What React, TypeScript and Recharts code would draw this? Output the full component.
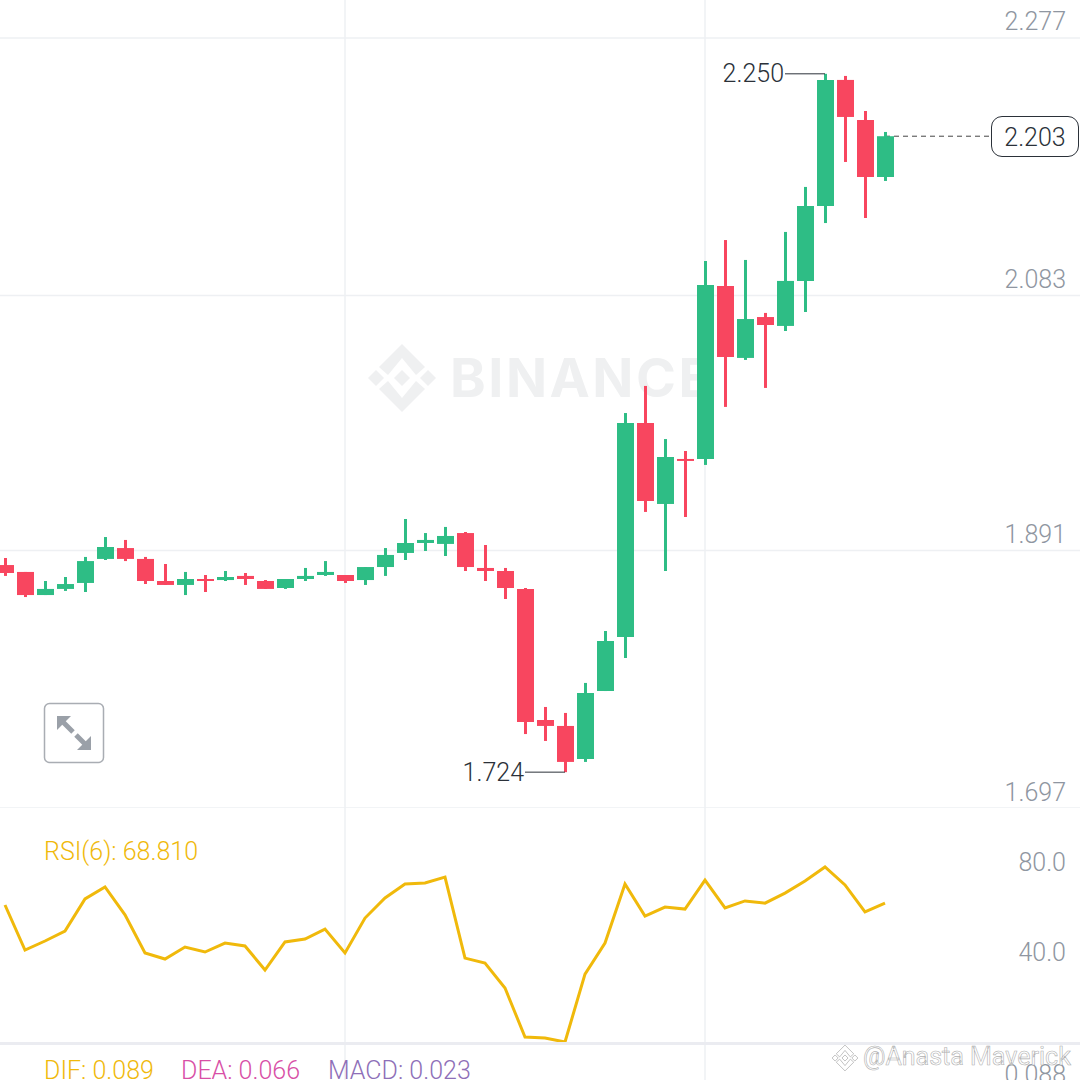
import {
  Bar,
  CartesianGrid,
  Cell,
  ComposedChart,
  Line,
  ReferenceDot,
  ReferenceLine,
  XAxis,
  YAxis,
} from "recharts";

const FONT = "Roboto, sans-serif";
const GREEN = "#2EBD85";
const RED = "#F8465F";
const GRID = "#EEF0F3";
const TICK = "#8F96A1";
const INK = "#2B3139";
const TEXT_SIZE = 25;

// one slot per candle, the empty slots after the last one are the free space on the right
const slots = Array.from({ length: 55 }, (_, i) => i);

const opens = [
  1.88, 1.8748, 1.8574, 1.862, 1.8665, 1.8846, 1.8928, 1.8846, 1.868, 1.865, 1.8695, 1.8687, 1.8718, 1.868, 1.8627,
  1.8695, 1.8725, 1.8725, 1.8687, 1.8785, 1.8891, 1.8966, 1.8959, 1.9041, 1.8778, 1.8755, 1.862, 1.7633, 1.7588,
  1.7339, 1.7851, 1.8258, 1.987, 1.926, 1.9599, 1.9599, 2.0902, 2.036, 2.0668, 2.0601, 2.094, 2.1505, 2.2454, 2.2152,
  2.1723,
];
const closes = [
  1.874, 1.8574, 1.862, 1.8657, 1.883, 1.8936, 1.8846, 1.868, 1.865, 1.8695, 1.868, 1.871, 1.8695, 1.862, 1.8695,
  1.8718, 1.8748, 1.868, 1.8785, 1.8876, 1.8966, 1.8989, 1.9019, 1.8785, 1.8755, 1.8627, 1.7618, 1.7588, 1.7317,
  1.7836, 1.8228, 1.987, 1.9282, 1.9614, 1.9584, 2.0909, 2.0367, 2.0653, 2.0608, 2.094, 2.1505, 2.2454, 2.2175, 2.1723,
  2.203,
];
const highs = [
  1.8853, 1.8748, 1.868, 1.871, 1.8861, 1.9011, 1.8989, 1.8861, 1.8808, 1.8748, 1.8725, 1.8755, 1.874, 1.8687, 1.8695,
  1.8778, 1.883, 1.8725, 1.8785, 1.8928, 1.9147, 1.9041, 1.9087, 1.9049, 1.8951, 1.8778, 1.8627, 1.7731, 1.7686,
  1.7912, 1.8303, 1.9945, 2.0149, 1.9749, 1.9659, 2.109, 2.1248, 2.1098, 2.0699, 2.1309, 2.1648, 2.25, 2.2484, 2.222,
  2.2062,
];
const lows = [
  1.8718, 1.8559, 1.8574, 1.8605, 1.8597, 1.8838, 1.883, 1.8657, 1.865, 1.8574, 1.8597, 1.868, 1.865, 1.862, 1.862,
  1.868, 1.8718, 1.8665, 1.865, 1.8718, 1.8838, 1.8906, 1.8868, 1.8755, 1.868, 1.8544, 1.7527, 1.7475, 1.724, 1.7317,
  1.7851, 1.81, 1.92, 1.8755, 1.9162, 1.9554, 1.9991, 2.0345, 2.0134, 2.0563, 2.0706, 2.1376, 2.1836, 2.1414, 2.1693,
];
const rsi = [
  68.0, 48.0, 52.0, 56.4, 70.7, 76.0, 63.6, 46.7, 44.0, 49.3, 47.1, 51.1, 49.8, 39.1, 51.6, 52.9, 57.3, 46.7, 62.2,
  71.1, 77.3, 77.8, 80.4, 44.4, 42.2, 31.1, 9.3, 8.9, 7.1, 37.3, 51.1, 77.3, 63.1, 67.1, 66.2, 79.1, 66.7, 69.8, 68.81,
  73.3, 78.7, 84.9, 76.9, 64.9, 68.81,
];

const priceTicks = [2.277, 2.083, 1.891, 1.697];
const rsiTicks = [80, 40];
const macdTicks = [0.088];
const gridSlots = [17, 35];

const rows = slots.map((slot) => {
  if (slot >= opens.length) return { slot };
  const o = opens[slot];
  const c = closes[slot];
  return {
    slot,
    up: c >= o,
    wick: [lows[slot], highs[slot]],
    body: [Math.min(o, c), Math.max(o, c)],
    rsi: rsi[slot],
  };
});

function ValueTick({ y, payload, digits }: any) {
  return (
    <text
      x={1071}
      y={y - 16}
      textAnchor="end"
      dominantBaseline="central"
      fill={TICK}
      fontSize={TEXT_SIZE}
      fontWeight={300}
      fontFamily={FONT}
    >
      {payload.value.toFixed(digits)}
    </text>
  );
}

function Logo({ cx, cy, s, fill, stroke, strokeWidth }: any) {
  const shapes = [
    [[0, -34], [23, -11], [14, -3], [0, -20], [-14, -3], [-23, -11]],
    [[0, 34], [23, 11], [14, 3], [0, 20], [-14, 3], [-23, 11]],
    [[0, -8], [8, 0], [0, 8], [-8, 0]],
    [[-26, -8], [-18, 0], [-26, 8], [-34, 0]],
    [[26, -8], [34, 0], [26, 8], [18, 0]],
  ];
  return (
    <g>
      {shapes.map((pts, i) => (
        <polygon
          key={i}
          points={pts.map(([x, y]) => `${cx + x * s},${cy + y * s}`).join(" ")}
          fill={fill}
          stroke={stroke}
          strokeWidth={strokeWidth}
        />
      ))}
    </g>
  );
}

function legend(left: number, color: string, text: string) {
  return (
    <div
      style={{
        position: "absolute",
        left,
        top: 1062,
        color,
        fontSize: TEXT_SIZE,
        fontWeight: 300,
        lineHeight: "18px",
        whiteSpace: "nowrap",
      }}
    >
      {text}
    </div>
  );
}

const leaderLabel = (value: string, dy: number) => ({
  value,
  position: "left" as const,
  offset: 1,
  dy,
  fill: INK,
  fontSize: TEXT_SIZE,
  fontWeight: 300,
  fontFamily: FONT,
});

export default function App() {
  return (
    <div
      style={{
        position: "absolute",
        left: 0,
        top: 0,
        width: 1080,
        height: 1080,
        overflow: "hidden",
        background: "#fff",
        fontFamily: FONT,
      }}
    >
      {/* watermark sits behind the candles */}
      <svg width={1080} height={808} style={{ position: "absolute", left: 0, top: 0 }}>
        <Logo cx={402} cy={378} s={1} fill="#EFF0F1" />
        <text x={450} y={397} fontSize={54} fontWeight={700} letterSpacing={2.5} fill="#EFF0F1" fontFamily="Inter, sans-serif">
          BINANCE
        </text>
      </svg>

      <div style={{ position: "absolute", left: -5, top: 0 }}>
        <ComposedChart width={1101} height={808} data={rows} margin={{ top: 0, right: 0, bottom: 0, left: 0 }}>
          <XAxis xAxisId="wick" dataKey="slot" type="category" scale="band" hide />
          <XAxis xAxisId="body" dataKey="slot" type="category" scale="band" hide />
          <YAxis
            orientation="right"
            width={1}
            domain={[1.697, 2.3056]}
            allowDataOverflow
            ticks={priceTicks}
            interval={0}
            axisLine={false}
            tickLine={false}
            tick={<ValueTick digits={3} />}
          />
          <CartesianGrid
            xAxisId="body"
            stroke={GRID}
            strokeWidth={1.5}
            horizontalValues={priceTicks}
            verticalValues={gridSlots}
          />
          <ReferenceLine
            xAxisId="body"
            segment={[{ x: 44, y: 2.203 }, { x: 50, y: 2.203 }]}
            stroke="#444"
            strokeDasharray="5 4"
            zIndex={200}
          />
          <Bar xAxisId="wick" dataKey="wick" barSize={3} isAnimationActive={false}>
            {rows.map((r) => (
              <Cell key={r.slot} fill={r.up ? GREEN : RED} />
            ))}
          </Bar>
          <Bar xAxisId="body" dataKey="body" barSize={17} isAnimationActive={false}>
            {rows.map((r) => (
              <Cell key={r.slot} fill={r.up ? GREEN : RED} />
            ))}
          </Bar>
          <ReferenceLine xAxisId="body" segment={[{ x: 39, y: 2.25 }, { x: 41, y: 2.25 }]} stroke={INK} />
          <ReferenceLine xAxisId="body" segment={[{ x: 26, y: 1.724 }, { x: 28, y: 1.724 }]} stroke={INK} />
          <ReferenceDot xAxisId="body" x={39} y={2.25} r={0} stroke="none" label={leaderLabel("2.250", -1)} />
          <ReferenceDot xAxisId="body" x={26} y={1.724} r={0} stroke="none" label={leaderLabel("1.724", 0)} />
        </ComposedChart>
      </div>

      <div style={{ position: "absolute", left: -5, top: 808 }}>
        <ComposedChart width={1101} height={235} data={rows} margin={{ top: 0, right: 0, bottom: 0, left: 0 }}>
          <XAxis xAxisId="body" dataKey="slot" type="category" scale="band" hide />
          <YAxis
            orientation="right"
            width={1}
            domain={[6.67, 111.11]}
            allowDataOverflow
            ticks={rsiTicks}
            interval={0}
            axisLine={false}
            tickLine={false}
            tick={<ValueTick digits={1} />}
          />
          <CartesianGrid xAxisId="body" stroke={GRID} strokeWidth={1.5} horizontal={false} verticalValues={gridSlots} />
          <Line
            xAxisId="body"
            dataKey="rsi"
            stroke="#F0B90B"
            strokeWidth={3}
            dot={false}
            type="linear"
            isAnimationActive={false}
          />
        </ComposedChart>
      </div>

      <div style={{ position: "absolute", left: -5, top: 1042, width: 1101, borderTop: "3px solid #EBECF1" }}>
        <ComposedChart width={1101} height={60} data={rows} margin={{ top: 0, right: 0, bottom: 0, left: 0 }}>
          <XAxis xAxisId="body" dataKey="slot" type="category" scale="band" hide />
          <YAxis
            orientation="right"
            width={1}
            domain={[0.078, 0.118]}
            allowDataOverflow
            ticks={macdTicks}
            interval={0}
            axisLine={false}
            tickLine={false}
            tick={<ValueTick digits={3} />}
          />
          <CartesianGrid xAxisId="body" stroke={GRID} strokeWidth={1.5} horizontal={false} verticalValues={gridSlots} />
        </ComposedChart>
      </div>

      {/* last price tag */}
      <div
        style={{
          position: "absolute",
          left: 991,
          top: 116,
          width: 88,
          height: 41,
          boxSizing: "border-box",
          border: `1.5px solid ${INK}`,
          borderRadius: 11,
          background: "#fff",
          color: INK,
          fontSize: TEXT_SIZE,
          fontWeight: 300,
          lineHeight: "41px",
          textAlign: "center",
        }}
      >
        {closes[closes.length - 1].toFixed(3)}
      </div>

      {/* expand button */}
      <svg width={62} height={62} viewBox="43 702 62 62" style={{ position: "absolute", left: 43, top: 702 }}>
        <rect x={44.5} y={703.5} width={59} height={59} rx={5} fill="#fff" stroke="#A9ADB3" strokeWidth={1.5} />
        <polygon points="57,716 71,716 57,730" fill="#9AA0A8" />
        <polygon points="91,750 77,750 91,736" fill="#9AA0A8" />
        <line x1={62} y1={721} x2={73} y2={732} stroke="#9AA0A8" strokeWidth={5} />
        <line x1={86} y1={745} x2={76} y2={735} stroke="#9AA0A8" strokeWidth={5} />
      </svg>

      <div
        style={{
          position: "absolute",
          left: 44,
          top: 838,
          color: "#F0B90B",
          fontSize: TEXT_SIZE,
          fontWeight: 300,
          lineHeight: "28px",
          whiteSpace: "nowrap",
        }}
      >
        RSI(6): 68.810
      </div>
      {legend(44, "#F0B90B", "DIF: 0.089")}
      {legend(181, "#D84FA6", "DEA: 0.066")}
      {legend(328, "#8E6FB8", "MACD: 0.023")}

      <svg width={1080} height={50} viewBox="0 1030 1080 50" style={{ position: "absolute", left: 0, top: 1030 }}>
        <Logo cx={845} cy={1058} s={0.38} fill="#fff" stroke="#B4B4B4" strokeWidth={0.8} />
        <text x={863} y={1065} fontSize={25} fill="#fff" stroke="#B0B0B0" strokeWidth={0.6} fontFamily={FONT}>
          @Anasta Maverick
        </text>
      </svg>
    </div>
  );
}
